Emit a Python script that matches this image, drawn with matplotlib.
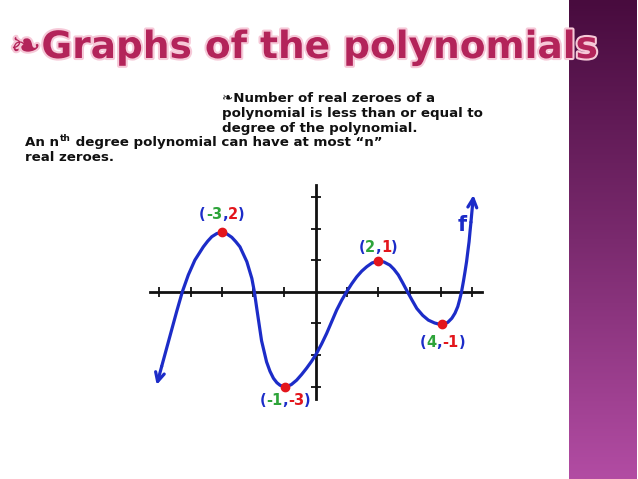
import numpy as np
import matplotlib.pyplot as plt
import matplotlib.patheffects as pe
from matplotlib.colors import LinearSegmentedColormap
from matplotlib.offsetbox import TextArea, HPacker, AnnotationBbox

# points (math coordinates)
curve_x = [-4.92, -4.76, -4.60, -4.44, -4.26, -4.07, -3.86, -3.59, -3.45, -3.32,
           -3.16, -3.00, -2.84, -2.68, -2.55, -2.42, -2.20, -2.04, -1.96, -1.88,
           -1.73, -1.57, -1.46, -1.35, -1.24, -1.14, -1.03, -0.93, -0.78, -0.61,
           -0.45, -0.29, -0.13, 0.03, 0.19, 0.35, 0.51, 0.67, 0.83, 0.99,
           1.15, 1.31, 1.47, 1.63, 1.80, 2.00, 2.18, 2.37, 2.50, 2.64,
           2.78, 2.93, 3.08, 3.23, 3.42, 3.60, 3.80, 3.95, 4.08, 4.22,
           4.35, 4.45, 4.54, 4.60, 4.66, 4.72, 4.77, 4.82, 4.86, 4.90,
           4.93, 4.96]
curve_y = [-2.36, -1.78, -1.20, -0.62, 0.00, 0.53, 1.00, 1.42, 1.60, 1.74,
           1.84, 1.88, 1.83, 1.72, 1.58, 1.42, 0.95, 0.42, 0.00, -0.55,
           -1.55, -2.22, -2.52, -2.74, -2.88, -2.96, -3.00, -3.00, -2.94, -2.80,
           -2.62, -2.42, -2.20, -1.95, -1.65, -1.32, -0.95, -0.58, -0.27, 0.00,
           0.25, 0.47, 0.65, 0.79, 0.91, 0.97, 0.94, 0.84, 0.71, 0.53,
           0.28, 0.00, -0.27, -0.53, -0.75, -0.90, -0.99, -1.03, -1.03, -0.97,
           -0.84, -0.68, -0.47, -0.25, 0.00, 0.33, 0.63, 0.95, 1.27, 1.58,
           1.90, 2.20]
arrow_tail_x = [-4.92, 4.96]
arrow_tail_y = [-2.36, 2.20]
arrow_tip_x = [-5.08, 5.04]
arrow_tip_y = [-2.95, 3.06]

pt_x = [-3.0, -0.98, 2.0, 4.05]
pt_y = [1.88, -3.0, 0.97, -1.03]
lab_x = ['-3', '-1', '2', '4']
lab_y = ['2', '-3', '1', '-1']
lab_dy = [12.5, -10, 10, -13]

x_ticks = [-5, -4, -3, -2, -1, 1, 2, 3, 4, 5]
y_ticks = [-3, -2, -1, 1, 2, 3]

title = "\u2767Graphs of the polynomials"
note1 = ["\u2767Number of real zeroes of a",
         "polynomial is less than or equal to",
         "degree of the polynomial."]
note2_a = "An n"
note2_sup = "th"
note2_b = " degree polynomial can have at most \u201cn\u201d"
note2_line2 = "real zeroes."

blue = '#1c2cc8'
green = '#2ea43a'
red = '#e3161c'
ink = '#111111'

W, H = 638, 479
fig = plt.figure(figsize=(W / 100, H / 100), dpi=100)
fig.patch.set_facecolor('white')
r = fig.canvas.get_renderer()

# purple strip on the right
sa = fig.add_axes([569 / W, 0, 67 / W, 1])
grad = np.linspace(0, 1, 256).reshape(-1, 1)
cm = LinearSegmentedColormap.from_list('strip', ['#480b3e', '#7a2a6e', '#b24ca3'])
sa.imshow(grad, aspect='auto', cmap=cm, extent=[0, 1, 1, 0])
sa.set_axis_off()

# title
fig.text(10 / W, 1 - 58 / H, title, fontsize=27, fontweight='bold', color='#b3245a',
         ha='left', va='baseline', zorder=10,
         path_effects=[pe.withStroke(linewidth=3, foreground='#f6c9d8')])

fs = 9.6
for i, s in enumerate(note1):
    fig.text(222 / W, 1 - (101.7 + 15 * i) / H, s, fontsize=fs, fontweight='bold',
             color=ink, ha='left', va='baseline')

# second note, superscript as its own small text
t1 = fig.text(25 / W, 1 - 145.7 / H, note2_a, fontsize=fs, fontweight='bold',
              color=ink, ha='left', va='baseline')
x1 = t1.get_window_extent(r).x1
t2 = fig.text((x1 + 1) / W, 1 - 141 / H, note2_sup, fontsize=6.5, fontweight='bold',
              color=ink, ha='left', va='baseline')
x2 = t2.get_window_extent(r).x1
fig.text(x2 / W, 1 - 145.7 / H, note2_b, fontsize=fs, fontweight='bold',
         color=ink, ha='left', va='baseline')
fig.text(25 / W, 1 - 160.7 / H, note2_line2, fontsize=fs, fontweight='bold',
         color=ink, ha='left', va='baseline')

# the graph
ax = fig.add_axes([127.9 / W, 60.9 / H, 375.6 / W, 252.8 / H])
ax.set_xlim(-6, 6)
ax.set_ylim(-4, 4)
ax.patch.set_alpha(0)
for s in ['top', 'right']:
    ax.spines[s].set_visible(False)
for s in ['left', 'bottom']:
    ax.spines[s].set_position('zero')
    ax.spines[s].set_linewidth(2.0)
    ax.spines[s].set_color(ink)
ax.spines['bottom'].set_bounds(-5.3, 5.3)
ax.spines['left'].set_bounds(-3.38, 3.38)
ax.set_xticks(x_ticks)
ax.set_yticks(y_ticks)
ax.tick_params(direction='inout', length=7, width=1.3, color=ink,
               labelbottom=False, labelleft=False)

ax.plot(curve_x, curve_y, color=blue, lw=2.3, solid_joinstyle='round',
        solid_capstyle='round', zorder=3)
for i in range(2):
    ax.annotate('', xy=(arrow_tip_x[i], arrow_tip_y[i]),
                xytext=(arrow_tail_x[i], arrow_tail_y[i]),
                arrowprops=dict(arrowstyle='->', color=blue, lw=2.3, mutation_scale=16,
                                shrinkA=0, shrinkB=0))
ax.plot(pt_x, pt_y, 'o', color=red, ms=6, zorder=4)

for x, y, lx, ly, dy in zip(pt_x, pt_y, lab_x, lab_y, lab_dy):
    props = dict(fontsize=10.5, fontweight='bold')
    parts = [TextArea('(', textprops=dict(color=blue, **props)),
             TextArea(lx, textprops=dict(color=green, **props)),
             TextArea(',', textprops=dict(color=blue, **props)),
             TextArea(ly, textprops=dict(color=red, **props)),
             TextArea(')', textprops=dict(color=blue, **props))]
    box = HPacker(children=parts, pad=0, sep=0, align='baseline')
    ab = AnnotationBbox(box, (x, y), xybox=(0, dy), boxcoords='offset points',
                        frameon=False, box_alignment=(0.5, 0.5))
    ax.add_artist(ab)

ax.text(4.69, 2.11, 'f', color=blue, fontsize=15, fontweight='bold',
        ha='center', va='center')

fig.savefig('out.png', dpi=100, facecolor='white')
